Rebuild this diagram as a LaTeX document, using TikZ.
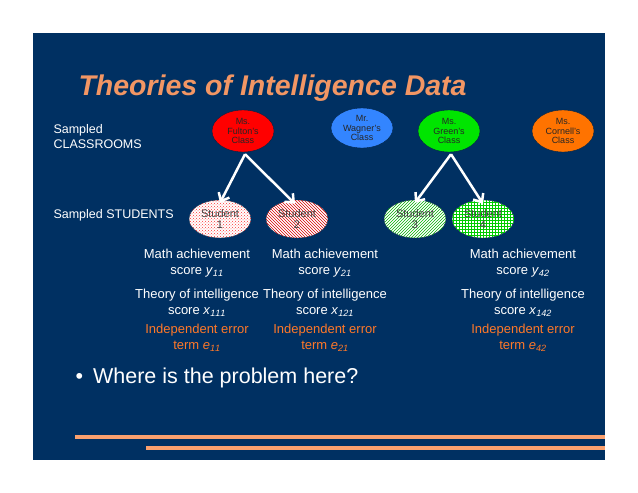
\documentclass[tikz,border=0pt]{standalone}
\usepackage{fontspec}
\setmainfont{Liberation Sans}
\usetikzlibrary{patterns,shapes.geometric,arrows.meta}
\definecolor{bg}{RGB}{0,48,98}
\definecolor{ttl}{RGB}{242,150,100}
\definecolor{err}{RGB}{255,120,40}
\definecolor{bar}{RGB}{250,160,110}
\begin{document}
\begin{tikzpicture}[x=1pt,y=-1pt,
 cls/.style={ellipse,draw=bg!70!black,minimum width=62pt,minimum height=42pt,inner sep=0pt,align=center,font=\fontsize{9}{9.5}\selectfont,text=black!85},
 stu/.style={ellipse,draw=bg!70!black,minimum width=62pt,minimum height=38pt,inner sep=0pt,fill=white},
 stl/.style={align=center,font=\fontsize{11}{11}\selectfont,text=black!75},
 lab/.style={text=white,font=\fontsize{13}{15.5}\selectfont,align=center},
 arr/.style={white,line width=2.5pt,-{Straight Barb[length=7pt,width=12pt]}}]
\useasboundingbox (0,0) rectangle (638,493);
\fill[white] (0,0) rectangle (638,493);
\fill[bg] (33,33) rectangle (605,460);
\fill[bar] (75,435) rectangle (605,439);
\fill[bar] (146,446) rectangle (605,450);
\node[anchor=west,text=ttl,font=\fontsize{28.5}{30}\selectfont\bfseries\itshape] (t) at (75,88) {Theories of Intelligence Data};
\node[anchor=west,lab,align=left,font=\fontsize{12.5}{15}\selectfont] (sc) at (50,137) {Sampled\\CLASSROOMS};
\node[anchor=west,lab,font=\fontsize{12.5}{15}\selectfont] (ss) at (50,215) {Sampled STUDENTS};
\node[cls,fill=red] (f) at (243,131) {Ms.\\Fulton's\\Class};
\node[cls,fill=blue!60!cyan!80!white,minimum height=40pt] (w) at (362,128) {Mr.\\Wagner's\\Class};
\node[cls,fill=green!90!black] (g) at (449,131) {Ms.\\Green's\\Class};
\node[cls,fill=orange!90!red] (c) at (563,131) {Ms.\\Cornell's\\Class};
\node[stu,postaction={pattern=crosshatch dots,pattern color=red!80}] (s1) at (220,219) {};
\node[stu,postaction={pattern=north west lines,pattern color=red!85!black}] (s2) at (297,219) {};
\node[stu,postaction={pattern=north east lines,pattern color=green!70!black}] (s3) at (415,219) {};
\node[stu,postaction={pattern=grid,pattern color=green!80!black}] (s4) at (483,219) {};
\foreach \n/\t in {s1/1,s2/2,s3/3,s4/4}{\node[stl] (l\n) at (\n) {Student\\\t};}
\draw[arr] (f.south) ++(2,2) -- ([yshift=-3pt]s1.north);
\draw[arr] (f.south) ++(2,2) -- ([xshift=-2pt,yshift=-4pt]s2.north);
\draw[arr] (g.south) ++(2,2) -- ([yshift=-3pt]s3.north);
\draw[arr] (g.south) ++(2,2) -- ([yshift=-4pt]s4.north);
\node[lab] (m1) at (197,263) {Math achievement\\score \textit{y}$_{\mathit{11}}$};
\node[lab] (m2) at (325,263) {Math achievement\\score \textit{y}$_{\mathit{21}}$};
\node[lab] (m3) at (523,263) {Math achievement\\score \textit{y}$_{\mathit{42}}$};
\node[lab] (x1) at (197,303) {Theory of intelligence\\score \textit{x}$_{\mathit{111}}$};
\node[lab] (x2) at (325,303) {Theory of intelligence\\score \textit{x}$_{\mathit{121}}$};
\node[lab] (x3) at (523,303) {Theory of intelligence\\score \textit{x}$_{\mathit{142}}$};
\node[lab,text=err] (e1) at (197,338) {Independent error\\term \textit{e}$_{\mathit{11}}$};
\node[lab,text=err] (e2) at (325,338) {Independent error\\term \textit{e}$_{\mathit{21}}$};
\node[lab,text=err] (e3) at (523,338) {Independent error\\term \textit{e}$_{\mathit{42}}$};
\node[anchor=west,text=white,font=\fontsize{21.5}{24}\selectfont] (q) at (72,378) {•\hspace{10pt}Where is the problem here?};
\end{tikzpicture}
\end{document}
